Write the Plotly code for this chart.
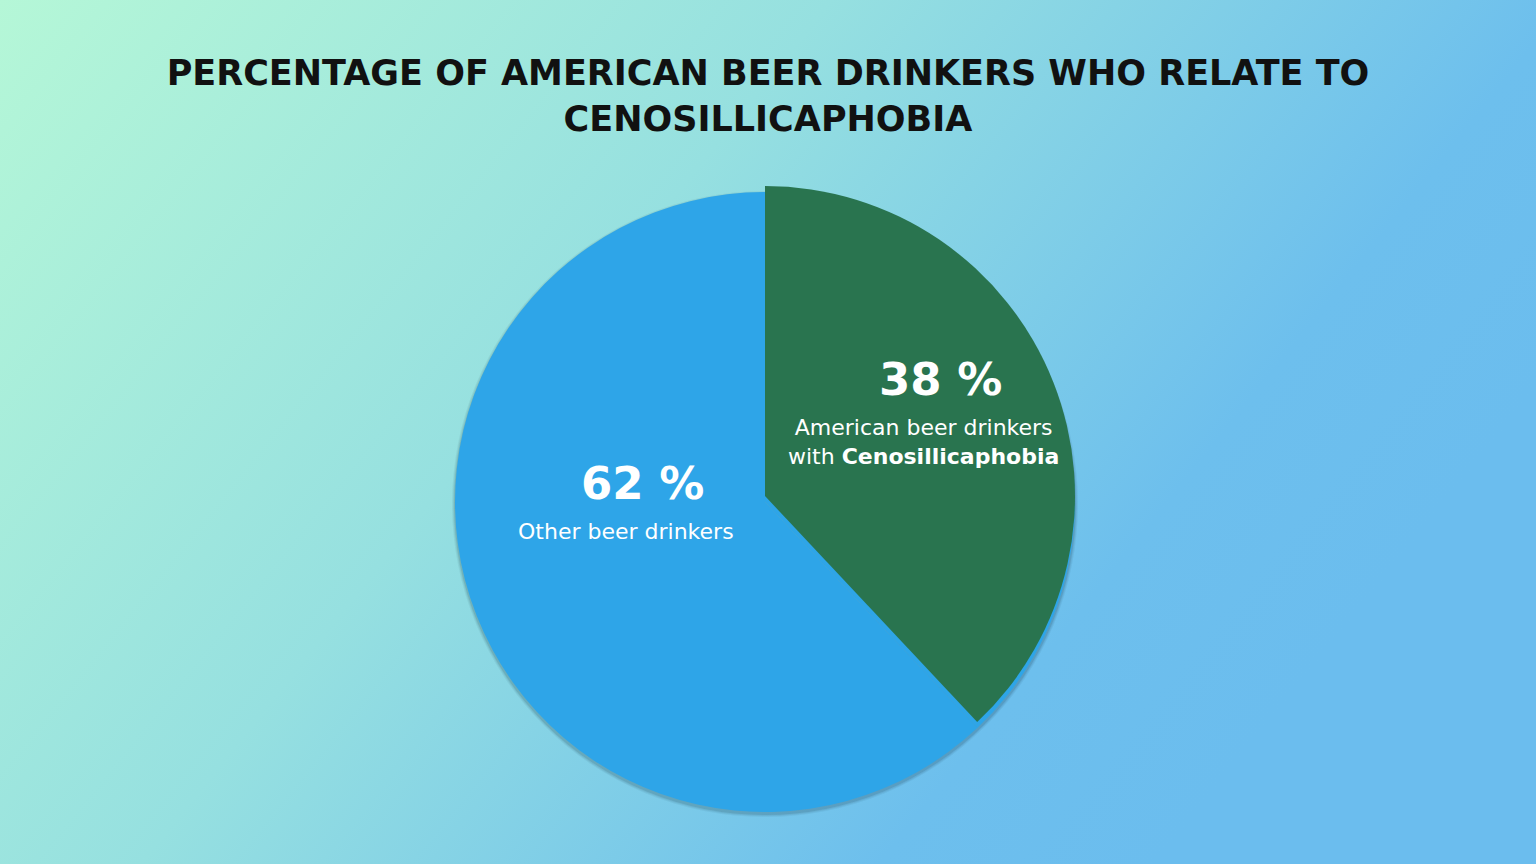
import base64
import plotly.graph_objects as go

# ---- data ----
categories = ["American beer drinkers with Cenosillicaphobia", "Other beer drinkers"]
values = [38, 62]
pct_labels = ["38 %", "62 %"]
title_text = "PERCENTAGE OF AMERICAN BEER DRINKERS WHO RELATE TO<br>CENOSILLICAPHOBIA"

# ---- style ----
W, H = 1536, 864
BLUE = "#2ea5e8"
GREEN = "#29744f"
CX, CY, R = 765, 502, 310      # pixel centre / radius of the pie
LIFT = 6                       # green slice raised a little

def dom(cx, cy, r):
    return dict(x=[(cx - r) / W, (cx + r) / W],
                y=[1 - (cy + r) / H, 1 - (cy - r) / H])

svg = f'''<svg xmlns="http://www.w3.org/2000/svg" width="{W}" height="{H}" viewBox="0 0 {W} {H}" preserveAspectRatio="none">
<defs><linearGradient id="g" x1="0" y1="0" x2="1" y2="0.45">
<stop offset="0" stop-color="#b5f7d7"/><stop offset="0.45" stop-color="#96e0e0"/>
<stop offset="0.85" stop-color="#6dbfed"/><stop offset="1" stop-color="#6bbdee"/></linearGradient></defs>
<rect width="{W}" height="{H}" fill="url(#g)"/></svg>'''
bg_src = "data:image/svg+xml;base64," + base64.b64encode(svg.encode()).decode()

fig = go.Figure()

# base: full blue disc
fig.add_trace(go.Pie(
    labels=categories, values=values, sort=False, direction="clockwise", rotation=0,
    marker=dict(colors=[BLUE, BLUE], line=dict(width=0)),
    textinfo="none", hoverinfo="label+percent", showlegend=False,
    domain=dom(CX, CY, R),
))
# top: green slice, slightly raised
fig.add_trace(go.Pie(
    labels=categories, values=values, sort=False, direction="clockwise", rotation=0,
    marker=dict(colors=[GREEN, "rgba(0,0,0,0)"], line=dict(width=0)),
    textinfo="none", hoverinfo="label+percent", showlegend=False,
    domain=dom(CX, CY - LIFT, R),
))

shapes = []
for i, a in enumerate([0.06, 0.08, 0.12]):
    rr = R + 3 - i
    shapes.append(dict(type="circle", xref="paper", yref="paper", layer="below",
                       x0=(CX - rr) / W, x1=(CX + rr) / W,
                       y0=1 - (CY + 2 + rr) / H, y1=1 - (CY + 2 - rr) / H,
                       fillcolor=f"rgba(20,50,60,{a})", line=dict(width=0)))

def ann(text, px, py, size, bold=False, family="DejaVu Sans"):
    return dict(text=text, x=px / W, y=1 - py / H, xref="paper", yref="paper",
                xanchor="center", yanchor="middle", showarrow=False, align="center",
                font=dict(family=family, size=size, color="white",
                          weight="bold" if bold else "normal"))

annotations = [
    ann(pct_labels[0], 940, 379, 45, bold=True),
    ann("American beer drinkers<br>with <b>Cenosillicaphobia</b>", 923, 442, 22),
    ann(pct_labels[1], 642, 483, 45, bold=True),
    ann(categories[1], 626, 531, 22),
]

fig.update_layout(
    width=W, height=H, margin=dict(l=0, r=0, t=0, b=0),
    paper_bgcolor="#9fe3df", plot_bgcolor="rgba(0,0,0,0)",
    images=[dict(source=bg_src, xref="paper", yref="paper", x=0, y=1, sizex=1, sizey=1,
                 xanchor="left", yanchor="top", sizing="stretch", layer="below")],
    title=dict(text=title_text, x=0.5, xanchor="center", y=1 - 85 / H, yanchor="middle",
               font=dict(family="DejaVu Sans", size=35, color="#111111", weight="bold")),
    shapes=shapes, annotations=annotations,
)

fig.write_html("out.html")
